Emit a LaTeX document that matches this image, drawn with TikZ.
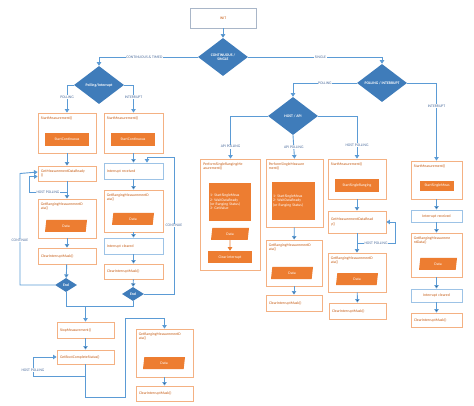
\documentclass[tikz,border=0pt]{standalone}
\usepackage{fontspec}
\setmainfont{Carlito}
\usetikzlibrary{arrows.meta,positioning,shapes.geometric}

\definecolor{lineblue}{HTML}{5B9BD5}
\definecolor{decblue}{HTML}{3F7CBA}
\definecolor{opfill}{HTML}{ED7D31}
\definecolor{boxline}{HTML}{F4B183}
\definecolor{intline}{HTML}{9DC3E6}
\definecolor{codetext}{HTML}{C55A11}
\definecolor{initline}{HTML}{A9B6C8}
\definecolor{lbltext}{HTML}{4F6F9F}

\newcommand{\tinyfont}{\fontsize{3.8}{4.4}\selectfont}

\tikzset{
	flow/.style={draw=lineblue,line width=0.9pt,-{Triangle[width=4.4pt,length=3.6pt]}},
	link/.style={draw=lineblue,line width=0.9pt},
	dec/.style={shape=diamond,fill=decblue,text=white,inner sep=0pt,minimum width=50,minimum height=38,font=\tinyfont\bfseries,align=center},
	enddec/.style={dec,minimum width=22,minimum height=14},
	codebox/.style={draw=boxline,line width=0.7pt,fill=white,text=codetext,font=\tinyfont,align=left,inner xsep=3pt,inner ysep=1pt},
	intbox/.style={codebox,draw=intline},
	op/.style={fill=opfill,text=white,font=\tinyfont,align=left,inner sep=1pt},
	data/.style={trapezium,trapezium left angle=62,trapezium right angle=118,trapezium stretches body,fill=opfill,text=white,font=\tinyfont,minimum width=42,minimum height=12,inner sep=0pt},
	ttl/.style={text=codetext,font=\tinyfont,align=left,inner sep=0pt,anchor=north west},
	lbl/.style={fill=white,text=lbltext,font=\tinyfont,inner sep=0.6pt}
}

\begin{document}
\begin{tikzpicture}[x=1pt,y=-1pt]
	\useasboundingbox (0,0) rectangle (474,406);

	% top of the chart
	\node [draw=initline,line width=0.7pt,minimum width=66,minimum height=20,text=codetext,font=\tinyfont] (init) at (223,18) {INIT};
	\node [dec] (mode) at (223,57) {CONTINUOUS /\\SINGLE};
	\node [dec] (cpi) at (99,85) {Polling/Interrupt};
	\node [dec] (spi) at (382,83) {POLLING / INTERRUPT};
	\node [dec] (hostapi) at (293,116) {HOST / API};

	% continuous, polling
	\node [codebox,minimum width=58,minimum height=40] (c1a) at (67,133) {};
	\node [ttl] (c1at) at ([xshift=3pt,yshift=-4pt]c1a.north west) {StartMeasurement()};
	\node [op,minimum width=44,minimum height=13] (c1op) at (67,139.5) {StartContinuous};
	\node [codebox,text width=52,minimum height=15] (c1b) at (67,173.5) {GetMeasurementDataReady\\()};
	\node [codebox,minimum width=58,minimum height=39] (c1c) at (67,218.5) {};
	\node [ttl] (c1ct) at ([xshift=3pt,yshift=-4pt]c1c.north west) {GetRangingMeasurementD\\ata()};
	\node [data] (c1data) at (66,226) {Data};
	\node [codebox,text width=52,minimum height=16] (c1d) at (67,256) {ClearInterruptMask()};
	\node [enddec] (end1) at (66,285) {End};

	% continuous, interrupt
	\node [codebox,minimum width=59,minimum height=40] (c2a) at (133.5,133) {};
	\node [ttl] (c2at) at ([xshift=3pt,yshift=-4pt]c2a.north west) {StartMeasurement()};
	\node [op,minimum width=44,minimum height=13] (c2op) at (133,139.5) {StartContinuous};
	\node [intbox,text width=53,minimum height=16] (c2b) at (133.5,171) {Interrupt received};
	\node [codebox,minimum width=59,minimum height=42] (c2c) at (133.5,211) {};
	\node [ttl] (c2ct) at ([xshift=3pt,yshift=-4pt]c2c.north west) {GetRangingMeasurementD\\ata()};
	\node [data] (c2data) at (133,219) {Data};
	\node [intbox,text width=53,minimum height=16] (c2d) at (133.5,246) {Interrupt cleared};
	\node [codebox,text width=53,minimum height=15] (c2e) at (133.5,271.5) {ClearInterruptMask()};
	\node [enddec] (end2) at (133,294) {End};

	% stop and restart
	\node [codebox,text width=51,minimum height=16] (stop) at (85.5,330) {StopMeasurement()};
	\node [codebox,text width=51,minimum height=14] (boot) at (85.5,357) {GetBootCompleteStatus()};
	\node [codebox,minimum width=57,minimum height=48] (c7a) at (164.5,353) {};
	\node [ttl] (c7at) at ([xshift=3pt,yshift=-4pt]c7a.north west) {GetRangingMeasurementD\\ata()};
	\node [data] (c7data) at (164,363) {Data};
	\node [codebox,text width=51,minimum height=15] (c7b) at (164.5,393.5) {ClearInterruptMask()};

	% single, api polling (ranging)
	\node [codebox,minimum width=60,minimum height=111] (c3a) at (230.5,214.5) {};
	\node [ttl] (c3at) at ([xshift=3pt,yshift=-4pt]c3a.north west) {PerformSingleRangingMe\\asurement()};
	\node [op,text width=40,minimum height=38] (c3op) at (230,202) {1- StartSingleMeas\\2- WaitDataReady\\(or Ranging Status)\\3- GetValue};
	\node [data,minimum width=38] (c3data) at (230,234) {Data};
	\node [op,align=center,minimum width=44,minimum height=12] (c3clr) at (230,257) {Clear interrupt};

	% single, api polling
	\node [codebox,minimum width=57,minimum height=68] (c4a) at (294.5,193) {};
	\node [ttl] (c4at) at ([xshift=3pt,yshift=-4pt]c4a.north west) {PerformSingleMeasure\\ment()};
	\node [op,text width=41,minimum height=38] (c4op) at (293.5,201) {1- StartSingleMeas\\2- WaitDataReady\\(or Ranging Status)};
	\node [codebox,minimum width=56,minimum height=46] (c4b) at (294,263) {};
	\node [ttl] (c4bt) at ([xshift=3pt,yshift=-4pt]c4b.north west) {GetRangingMeasurementD\\ata()};
	\node [data] (c4data) at (292,273) {Data};
	\node [codebox,text width=50,minimum height=16] (c4c) at (294,303) {ClearInterruptMask()};

	% single, host polling
	\node [codebox,minimum width=58,minimum height=40] (c5a) at (357,179) {};
	\node [ttl] (c5at) at ([xshift=3pt,yshift=-4pt]c5a.north west) {StartMeasurement()};
	\node [op,minimum width=44,minimum height=13] (c5op) at (357,185.5) {StartSingleRanging};
	\node [codebox,text width=52,minimum height=22] (c5b) at (357,222) {GetMeasurementDataRead\\y()};
	\node [codebox,minimum width=58,minimum height=39] (c5c) at (357,272.5) {};
	\node [ttl] (c5ct) at ([xshift=3pt,yshift=-4pt]c5c.north west) {GetRangingMeasurementD\\ata()};
	\node [data] (c5data) at (357,279) {Data};
	\node [codebox,text width=51,minimum height=16] (c5d) at (357.5,311) {ClearInterruptMask()};

	% single, interrupt
	\node [codebox,minimum width=51,minimum height=38] (c6a) at (436.5,180) {};
	\node [ttl] (c6at) at ([xshift=3pt,yshift=-4pt]c6a.north west) {StartMeasurement()};
	\node [op,minimum width=34,minimum height=10] (c6op) at (437,186) {StartSingleMeas};
	\node [intbox,align=center,text width=45,minimum height=12] (c6b) at (436.5,216) {Interrupt received};
	\node [codebox,minimum width=51,minimum height=44] (c6c) at (436.5,255) {};
	\node [ttl] (c6ct) at ([xshift=3pt,yshift=-4pt]c6c.north west) {GetRangingMeasureme\\ntData()};
	\node [data,minimum width=38] (c6data) at (438,264) {Data};
	\node [intbox,align=center,text width=45,minimum height=13] (c6d) at (436.5,295.5) {Interrupt cleared};
	\node [codebox,text width=45,minimum height=14] (c6e) at (436.5,320) {ClearInterruptMask()};

	% loop corners
	\coordinate (hp1) at (67,192);
	\coordinate (hp1c) at (29,192);
	\coordinate (ct1) at (20,285);
	\coordinate (ct2) at (174,294);
	\coordinate (ct2t) at (147,157);
	\coordinate (jn) at (85.5,306);
	\coordinate (hp2) at (85.5,376);
	\coordinate (hp2c) at (33,376);
	\coordinate (bl) at (125,397);
	\coordinate (bt) at (125,318);
	\coordinate (hp3) at (357,243);
	\coordinate (hp3c) at (395,243);

	\path[flow]
	(init) edge (mode)
	(c1a) edge (c1b)
	(c1b) edge (c1c)
	(c1c) edge (c1d)
	(c1d) edge (end1)
	(c2a) edge (c2b)
	(c2b) edge (c2c)
	(c2c) edge (c2d)
	(c2d) edge (c2e)
	(c2e) edge (end2)
	(stop) edge (boot)
	(c7a) edge (c7b)
	(c4a) edge (c4b)
	(c4b) edge (c4c)
	(c5a) edge (c5b)
	(c5b) edge (c5c)
	(c5c) edge (c5d)
	(c6a) edge (c6b)
	(c6b) edge (c6c)
	(c6c) edge (c6d)
	(c6d) edge (c6e)
	;

	% branches
	\draw[flow] (mode.west) -| node[lbl,pos=0.27] {CONTINUOUS \& TIMED} (cpi.north);
	\draw[flow] (mode.east) -| node[lbl,pos=0.27] {SINGLE} (spi.north);
	\draw[flow] (cpi.west) -| node[lbl,pos=0.72] {POLLING} (c1a.north);
	\draw[flow] (cpi.east) -| node[lbl,pos=0.72] {INTERRUPT} (c2a.north);
	\draw[flow] (spi.west) -| node[lbl,pos=0.25] {POLLING} (hostapi.north);
	\draw[flow] (spi.east) -| node[lbl,pos=0.65] {INTERRUPT} (c6a.north);
	\draw[flow] (hostapi.west) -| node[lbl,pos=0.86] {API POLLING} (c3a.north);
	\draw[flow] (hostapi.south) -- node[lbl] {API POLLING} (c4a.north);
	\draw[flow] (hostapi.east) -| node[lbl,pos=0.84] {HOST POLLING} (c5a.north);
	\draw[flow,draw=opfill] (c3data) -- (c3clr);

	% loops
	\draw[flow] (hp1) -- node[lbl] {HOST POLLING} (hp1c) |- ([yshift=-3pt]c1b.west);
	\draw[flow] (end1.west) -- (ct1) -- node[lbl,pos=0.4] {CONTINUE} (ct1 |- c1b.west) -- ([yshift=1.5pt]c1b.west);
	\draw[flow] (end2.east) -- (ct2) -- node[lbl] {CONTINUE} (ct2 |- ct2t) -- (ct2t) -- (ct2t |- c2b.north);
	\draw[link] (end1.south) |- (jn);
	\draw[link] (end2.south) |- (jn);
	\draw[flow] (jn) -- (stop.north);
	\draw[flow] (boot.south) |- (bl) -- (bt) -| (c7a.north);
	\draw[flow] (hp2) -- (hp2c) -- node[lbl,pos=0.3] {HOST POLLING} (hp2c |- boot.west) -- (boot.west);
	\draw[flow] (hp3) -- node[lbl] {HOST POLLING} (hp3c) |- (c5b.east);
\end{tikzpicture}
\end{document}
